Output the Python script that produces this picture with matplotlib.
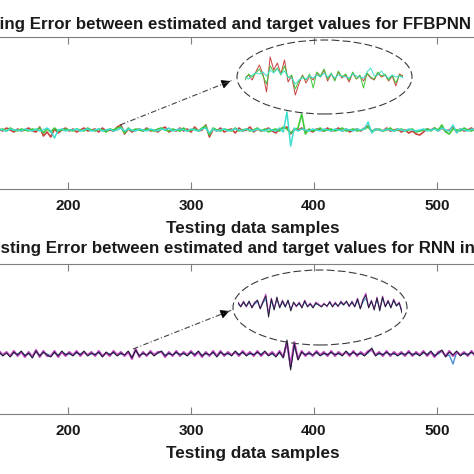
import numpy as np
import matplotlib
matplotlib.use("Agg")
import matplotlib.pyplot as plt
from matplotlib.patches import Ellipse, FancyArrowPatch
from matplotlib.lines import Line2D

# --- Data (error values; one point every 3 samples) ---
SAMPLE_START = 144
SAMPLE_STEP = 3

ffbpnn_red = [
    1, -1, 2, 0, -2, 1, -1, 0, 2, -1,
    -2, 3, -6, -2, -7, 1, -3, 0, 2, -1,
    1, -2, 0, 2, -1, 0, 1, -2, 2, -1,
    0, -1, 3, 5, -4, 1, -2, 0, 1, -1,
    2, -1, 0, -2, 1, 3, -2, 0, -1, 2,
    -1, 1, -2, 3, -1, 0, 5, -7, 1, -1,
    2, -2, 0, 1, -3, 2, -1, 0, 3, -2,
    1, -1, 0, 2, -1, -3, 1, 2, 3, -4,
    1, 0, 2, -1, 0, -2, 1, 0, -1, 2,
    -1, 0, 2, -1, 1, -2, 0, 1, -1, 2,
    4, -2, 1, 0, -1, 2, -1, 0, 1, -2,
    0, -3, -1, -4, -5, -2, 1, 0, 2, -1,
    2, -1, 0, 3, -2, 1, -1, 0, 2, -1,
]
ffbpnn_green = [
    0, 1, -1, 2, 0, -1, 1, 0, -1, 1,
    0, 2, -3, 1, -2, 2, -1, 0, 1, 0,
    -1, 1, 0, -1, 2, 0, -1, 1, 0, -2,
    1, 0, 2, 3, -3, 2, -1, 1, 0, -1,
    1, 0, -1, 1, 2, 0, -1, 1, 0, -1,
    2, -1, 0, 1, -1, 2, 4, -5, 2, 0,
    -1, 1, 0, -1, 2, -1, 0, 1, -1, 0,
    2, -1, 1, -2, 0, 1, -1, 3, 1, -3,
    0, 2, 16, -4, 1, -1, 0, 2, -1, 0,
    1, -1, 0, 2, -1, 0, 1, -1, 0, 1,
    3, -1, 0, 1, -1, 0, 2, -1, 0, 1,
    -1, 0, 1, -2, -1, 0, 1, -1, 2, 0,
    5, -2, -4, 1, 0, -1, 2, 0, -1, 1,
]
ffbpnn_cyan = [
    1, 0, -1, 1, 0, 0, -1, 1, 0, -1,
    1, -1, 0, 2, -1, -8, 0, 1, -1, 0,
    0, 1, -1, 0, 1, -1, 0, 1, -1, 0,
    1, -1, 0, 2, -1, 1, 0, -1, 1, 0,
    -1, 1, 0, -1, 1, 0, 2, -1, 0, 1,
    0, -1, 1, 0, -1, 1, 2, -3, 1, -1,
    0, 1, -1, 0, 1, 0, -1, 1, 0, -1,
    1, 0, -1, 1, 0, -1, 2, -2, 18, -16,
    2, -1, 1, 0, -1, 1, 0, -1, 1, 0,
    -1, 1, 0, -1, 1, 0, -1, 1, 0, 1,
    8, -3, 1, 0, -1, 1, 0, -1, 1, 0,
    -1, 1, 0, -1, 0, 1, -1, 0, 1, -1,
    2, 0, -1, 5, -3, 1, 0, -1, 1, 0,
]

rnn_black = [
    2, -2, 1, -3, 2, -1, 3, -2, 1, -4,
    3, -2, 2, -1, -3, 2, -2, 3, -1, 1,
    -2, 2, -1, 3, -2, 1, -1, 2, -3, 2,
    -1, 2, -2, 1, -1, 3, -4, 4, -2, 1,
    -1, 2, -2, 1, 3, -2, 1, -1, 2, -1,
    1, -2, 2, -1, 3, -2, 1, -1, 2, -3,
    2, -1, 1, -2, 3, -1, 2, -2, 1, -1,
    2, -1, 3, -2, 1, -3, 2, -4, 14, -16,
    10, -6, 2, -1, 1, -1, 2, -2, 1, -1,
    2, -1, 1, -2, 3, -1, 2, -1, 1, -2,
    2, 6, -2, 1, -1, 2, -1, 1, -2, 1,
    -1, 2, -1, 1, -2, 2, -1, 3, -2, 1,
    4, -3, 2, -1, 3, -2, 1, -1, 2, -1,
]
rnn_magenta = [
    3, -1, 2, -2, 3, -2, 2, -3, 2, -3,
    4, -3, 3, -2, -2, 3, -3, 2, -2, 2,
    -1, 3, -2, 2, -1, 2, -2, 3, -2, 1,
    -2, 3, -1, 2, -2, 2, -5, 5, -3, 2,
    -2, 3, -1, 2, 2, -3, 2, -2, 3, -2,
    2, -1, 3, -2, 2, -3, 2, -2, 3, -2,
    3, -2, 2, -1, 2, -2, 3, -1, 2, -2,
    3, -2, 2, -1, 2, -2, 3, -3, 12, -12,
    12, -5, 3, -2, 2, -2, 3, -1, 2, -2,
    3, -2, 2, -1, 2, -2, 3, -2, 2, -1,
    3, 4, -1, 2, -2, 3, -2, 2, -1, 2,
    -2, 3, -2, 2, -1, 3, -2, 2, -3, 2,
    3, -2, 3, -2, 2, -1, 2, -2, 3, -2,
]
rnn_blue = [
    1, -1, 1, -2, 1, 0, 2, -1, 0, -2,
    2, -1, 1, 0, -2, 1, -1, 2, 0, 0,
    -1, 1, 0, 2, -1, 0, 0, 1, -2, 1,
    0, 1, -1, 0, -1, 2, -3, 3, -1, 0,
    -1, 1, 0, 1, 2, -1, 0, -1, 1, 0,
    0, -1, 1, 0, 2, -1, 0, -1, 1, -2,
    1, 0, 0, -1, 2, 0, 1, -1, 0, 0,
    1, 0, 2, -1, 0, -2, 1, -3, 10, -13,
    8, -4, 1, 0, 0, -1, 1, -1, 0, 0,
    1, 0, 0, -1, 2, 0, 1, 0, 0, -1,
    1, 5, -1, 0, 0, 1, 0, 0, -1, 0,
    0, 1, 0, 0, -1, 1, 0, 2, -1, 0,
    3, -2, -1, -10, 2, -1, 0, 0, 1, 0,
]

# zoomed segments shown inside the ellipses
zoom_ffbpnn_red = [0, 3, -2, 6, 13, 4, -14, 21, 8, 15, 4, 18, -4, 2, -17, -6, 3, -5, 2, -2, 5, 1, 8,
                   -3, 4, -2, 6, 0, 3, -4, 5, -1, 2, -3, 4, 0, -2, 5, 1, 3, -3, 2, -8, 4, 2]
zoom_ffbpnn_green = [-2, 4, 1, 5, 9, 2, -6, 12, 6, 10, 3, 12, 0, 3, -11, -3, 2, -2, 4, -10, 6, 2, 9,
                     -1, 5, -3, 7, 1, 4, -2, 6, -1, 3, -10, 5, 1, -1, 6, 2, 4, -2, 3, -5, 3, 1]
zoom_ffbpnn_cyan = [1, -1, 3, 5, 4, 6, 2, 8, 5, 9, 4, 7, 1, 0, -6, -2, 0, -1, 2, 0, 3, 1, 5,
                    1, 4, 0, 3, 2, 1, 0, 4, 2, 1, 0, 6, 10, 2, 3, 7, 2, 0, 3, 1, 2, 0]

zoom_rnn_black = [2, -2, 3, -1, 4, -3, 2, 5, -4, 3, 9, -12, 6, -5, 8, -3, 4, -2, 5, -6, 3, -1, 2, -3,
                  4, -2, 1, -3, 2, 0, -2, 1, -1, 3, -2, 2, -1, 3, 0, 4, -1, 3, -2, 6, -4, 5, 10, -3,
                  4, -5, 7, -6, 8, -2, 4, -3, 5, -1, 2, -8]
zoom_rnn_magenta = [3, -1, 4, -2, 3, -2, 3, 4, -3, 4, 11, -8, 7, -3, 6, -2, 5, -1, 4, -4, 2, -2, 3, -2,
                    5, -1, 2, -2, 3, 1, -1, 2, -2, 4, -1, 3, -2, 4, 1, 3, -2, 4, -1, 7, -3, 6, 12, -2,
                    5, -4, 8, -4, 9, -1, 5, -2, 6, 0, 3, -6]
zoom_rnn_blue = [1, -1, 2, -2, 3, -2, 1, 3, -3, 2, 6, -9, 4, -4, 5, -2, 3, -2, 4, -4, 2, -1, 1, -2,
                 3, -1, 1, -2, 1, 0, -1, 1, -1, 2, -1, 1, -1, 2, 0, 3, -1, 2, -1, 4, -3, 3, 7, -2,
                 3, -3, 5, -4, 6, -1, 3, -2, 4, -1, 2, -6]

title_top = "Testing Error between estimated and target values for FFBPNN in test phase"
title_bot = "Testing Error between estimated and target values for RNN in test phase"
xlabel = "Testing data samples"
xticks = [0, 100, 200, 300, 400, 500, 600, 700]

# --- Style ---
W = H = 474
FONT = "Liberation Sans"
AX_COLOR = "#7f7f7f"
TXT_COLOR = "#1a1a1a"
plt.rcParams["font.family"] = [FONT, "DejaVu Sans"]


def fx(px):
    return px / W


def fy(py):
    return 1 - py / H


fig = plt.figure(figsize=(W / 100, H / 100), dpi=100)
renderer = fig.canvas.get_renderer()


def prefix_width(s, size):
    t = fig.text(0, 0, s, fontsize=size, fontweight="bold")
    w = t.get_window_extent(renderer).width
    t.remove()
    return w / W


def main_axes(top_px, bottom_px, series, colors, widths, ylim):
    ax = fig.add_axes([fx(-178), fy(bottom_px), fx(683 + 178), (bottom_px - top_px) / H])
    x = SAMPLE_START + SAMPLE_STEP * np.arange(len(series[0]))
    for s, c, lw in zip(series, colors, widths):
        ax.plot(x, s, color=c, lw=lw)
    ax.set_xlim(0, 700)
    ax.set_ylim(*ylim)
    ax.set_xticks(xticks)
    ax.set_yticks([])
    ax.tick_params(axis="x", direction="in", length=5, width=0.8, color=AX_COLOR,
                   top=True, labelsize=11, labelcolor=TXT_COLOR, pad=7)
    for lab in ax.get_xticklabels():
        lab.set_fontweight("bold")
    for sp in ax.spines.values():
        sp.set_color(AX_COLOR)
        sp.set_linewidth(0.8)
    ax.set_xlabel(xlabel, fontsize=12.3, fontweight="bold", color=TXT_COLOR, labelpad=6)
    return ax


def zoom_axes(left_px, right_px, center_py, series, colors):
    ax = fig.add_axes([fx(left_px), fy(center_py + 28), (right_px - left_px) / W, 56 / H])
    for s, c in zip(series, colors):
        ax.plot(np.arange(len(s)), s, color=c, lw=0.7)
    ax.set_xlim(0, len(series[0]) - 1)
    ax.set_ylim(-28, 28)
    ax.axis("off")
    return ax


def ellipse_and_arrow(cx, cy, w, h, start, end):
    fig.add_artist(Ellipse((fx(cx), fy(cy)), w / W, h / H, transform=fig.transFigure,
                           fill=False, ec="#3a3a3a", lw=0.8, ls=(0, (7, 3))))
    fig.add_artist(Line2D([fx(start[0]), fx(end[0])], [fy(start[1]), fy(end[1])],
                          transform=fig.transFigure, color="#444444", lw=0.8,
                          ls=(0, (5, 2, 1, 2))))
    dx, dy = end[0] - start[0], end[1] - start[1]
    n = np.hypot(dx, dy)
    tail = (end[0] - 12 * dx / n, end[1] - 12 * dy / n)
    fig.add_artist(FancyArrowPatch((fx(tail[0]), fy(tail[1])), (fx(end[0]), fy(end[1])),
                                   transform=fig.transFigure, arrowstyle="-|>",
                                   mutation_scale=14, color="black", lw=0.5))


top_colors = ["#c8403f", "#3ec83a", "#3fdcd0"]
bot_colors = ["#4a8fd0", "#c64cc8", "#1c1c30"]

main_axes(37, 189, [ffbpnn_red, ffbpnn_green, ffbpnn_cyan], top_colors, [1.2, 1.2, 1.1], (-59, 93))
main_axes(264, 414, [rnn_blue, rnn_magenta, rnn_black], bot_colors, [1.0, 1.5, 0.75], (-60, 90))

zoom_axes(245, 403, 78, [zoom_ffbpnn_red, zoom_ffbpnn_green, zoom_ffbpnn_cyan], top_colors)
zoom_axes(238, 402, 305, [zoom_rnn_blue, zoom_rnn_magenta, zoom_rnn_black], bot_colors)

ellipse_and_arrow(324.5, 77, 175, 74, (120, 125), (233, 80))
ellipse_and_arrow(320, 307.5, 174, 75, (133, 349), (232, 310))

TITLE_SIZE = 12.2
fig.text(-prefix_width("Test", TITLE_SIZE), fy(25), title_top, fontsize=TITLE_SIZE,
         fontweight="bold", color=TXT_COLOR, va="center", ha="left")
fig.text(-prefix_width("Te", TITLE_SIZE), fy(249), title_bot, fontsize=TITLE_SIZE,
         fontweight="bold", color=TXT_COLOR, va="center", ha="left")

fig.savefig("out.png", dpi=100)
